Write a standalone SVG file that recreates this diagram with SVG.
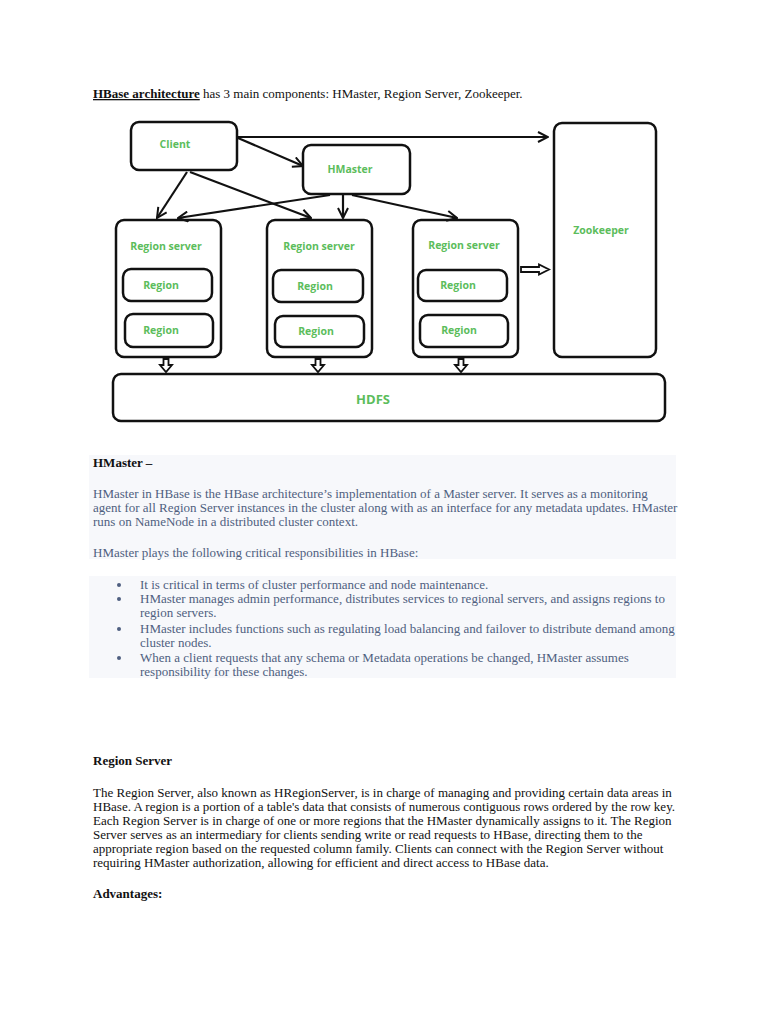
<svg xmlns="http://www.w3.org/2000/svg" width="768" height="1024" viewBox="0 0 768 1024">
<defs>
<style>
.box{fill:#fff;stroke:#111;stroke-width:2.5}
.lbl{font-family:"Open Sans","Liberation Sans",sans-serif;font-weight:bold;fill:#5cbd5c;font-size:10.5px;text-anchor:middle}
.con{stroke:#111;stroke-width:2.2;fill:none}
.hollow{fill:#fff;stroke:#111;stroke-width:1.8;stroke-linejoin:miter}
.t{font-family:"Liberation Serif",serif;font-size:13px;fill:#111}
.g{font-family:"Liberation Serif",serif;font-size:13px;fill:#4f5f80}
.b{font-weight:bold}
</style>
<marker id="ah" viewBox="0 0 12 12" refX="11" refY="6" markerWidth="12" markerHeight="12" markerUnits="userSpaceOnUse" orient="auto">
<path d="M1,1 L11,6 L1,11" fill="none" stroke="#111" stroke-width="2"/>
</marker>
</defs>
<rect width="768" height="1024" fill="#fff"/>

<text class="t" x="93" y="98"><tspan class="b" text-decoration="underline">HBase architecture</tspan> has 3 main components: HMaster, Region Server, Zookeeper.</text>

<g id="client"><rect class="box" x="131" y="122" width="106" height="48" rx="8"/><text class="lbl" x="175" y="148">Client</text></g>
<g id="hmaster"><rect class="box" x="303" y="145" width="107" height="49" rx="8"/><text class="lbl" x="350" y="173">HMaster</text></g>
<g id="zookeeper"><rect class="box" x="554" y="123" width="102" height="234" rx="8"/><text class="lbl" x="601" y="234">Zookeeper</text></g>

<g id="rs1"><rect class="box" x="116" y="220" width="105" height="137" rx="8"/><text class="lbl" x="166" y="250">Region server</text>
<g id="rs1-r1"><rect class="box" x="123" y="269" width="89" height="32" rx="8"/><text class="lbl" x="161" y="289">Region</text></g>
<g id="rs1-r2"><rect class="box" x="125" y="314" width="88" height="33" rx="8"/><text class="lbl" x="161" y="334">Region</text></g></g>

<g id="rs2"><rect class="box" x="267" y="220" width="105" height="137" rx="8"/><text class="lbl" x="319" y="250">Region server</text>
<g id="rs2-r1"><rect class="box" x="273" y="270" width="90" height="32" rx="8"/><text class="lbl" x="315" y="290">Region</text></g>
<g id="rs2-r2"><rect class="box" x="275" y="316" width="89" height="31" rx="8"/><text class="lbl" x="316" y="335">Region</text></g></g>

<g id="rs3"><rect class="box" x="413" y="220" width="105" height="137" rx="8"/><text class="lbl" x="464" y="249">Region server</text>
<g id="rs3-r1"><rect class="box" x="418" y="270" width="89" height="31" rx="8"/><text class="lbl" x="458" y="289">Region</text></g>
<g id="rs3-r2"><rect class="box" x="420" y="315" width="88" height="32" rx="8"/><text class="lbl" x="459" y="334">Region</text></g></g>

<g id="hdfs"><rect class="box" x="113" y="374" width="552" height="47" rx="8"/><text class="lbl" x="373" y="404" style="font-size:13px">HDFS</text></g>

<g id="connectors">
<line class="con" x1="237" y1="137" x2="548" y2="137" marker-end="url(#ah)"/>
<line class="con" x1="238" y1="138" x2="303" y2="166" marker-end="url(#ah)"/>
<line class="con" x1="187" y1="172" x2="157" y2="218" marker-end="url(#ah)"/>
<line class="con" x1="190" y1="172" x2="311" y2="218" marker-end="url(#ah)"/>
<line class="con" x1="330" y1="195" x2="178" y2="218" marker-end="url(#ah)"/>
<line class="con" x1="343" y1="195" x2="343" y2="218" marker-end="url(#ah)"/>
<line class="con" x1="352" y1="195" x2="457" y2="218" marker-end="url(#ah)"/>
<polygon class="hollow" points="521,267 539,267 539,264.5 549,269.5 539,274.5 539,272 521,272"/>
<polygon class="hollow" points="163.5,359 168.5,359 168.5,365 172,365 166,372 160,365 163.5,365"/>
<polygon class="hollow" points="315.5,359 320.5,359 320.5,365 324,365 318,372 312,365 315.5,365"/>
<polygon class="hollow" points="458.5,359 463.5,359 463.5,365 467,365 461,372 455,365 458.5,365"/>
</g>

<rect x="89" y="455" width="587" height="104" fill="#f7f8fb"/>
<rect x="89" y="576" width="587" height="102" fill="#f7f8fb"/>
<text class="t b" x="93" y="467">HMaster –</text>
<text class="g" x="93" y="498">HMaster in HBase is the HBase architecture’s implementation of a Master server. It serves as a monitoring</text>
<text class="g" x="93" y="512">agent for all Region Server instances in the cluster along with as an interface for any metadata updates. HMaster</text>
<text class="g" x="93" y="526">runs on NameNode in a distributed cluster context.</text>
<text class="g" x="93" y="557">HMaster plays the following critical responsibilities in HBase:</text>

<g fill="#4f5f80"><circle cx="119" cy="585" r="2"/><circle cx="119" cy="599" r="2"/><circle cx="119" cy="629" r="2"/><circle cx="119" cy="658" r="2"/></g>
<text class="g" x="140" y="589">It is critical in terms of cluster performance and node maintenance.</text>
<text class="g" x="140" y="603">HMaster manages admin performance, distributes services to regional servers, and assigns regions to</text>
<text class="g" x="140" y="617">region servers.</text>
<text class="g" x="140" y="633">HMaster includes functions such as regulating load balancing and failover to distribute demand among</text>
<text class="g" x="140" y="647">cluster nodes.</text>
<text class="g" x="140" y="662">When a client requests that any schema or Metadata operations be changed, HMaster assumes</text>
<text class="g" x="140" y="676">responsibility for these changes.</text>

<text class="t b" x="93" y="765">Region Server</text>
<text class="t" x="93" y="797">The Region Server, also known as HRegionServer, is in charge of managing and providing certain data areas in</text>
<text class="t" x="93" y="811">HBase. A region is a portion of a table's data that consists of numerous contiguous rows ordered by the row key.</text>
<text class="t" x="93" y="825">Each Region Server is in charge of one or more regions that the HMaster dynamically assigns to it. The Region</text>
<text class="t" x="93" y="839">Server serves as an intermediary for clients sending write or read requests to HBase, directing them to the</text>
<text class="t" x="93" y="853">appropriate region based on the requested column family. Clients can connect with the Region Server without</text>
<text class="t" x="93" y="867">requiring HMaster authorization, allowing for efficient and direct access to HBase data.</text>
<text class="t b" x="93" y="898">Advantages:</text>
</svg>
